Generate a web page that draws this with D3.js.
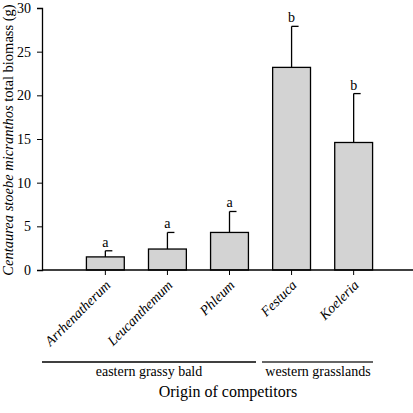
<!DOCTYPE html><html><head><meta charset="utf-8">
<script src="https://cdn.jsdelivr.net/npm/d3@7"></script>
<style>body{margin:0;background:#fff}svg text{font-family:"Liberation Serif","Times New Roman","DejaVu Serif",serif !important;fill:#000}</style></head><body>
<svg width="413" height="413"></svg>
<script>
const categories=["Arrhenatherum","Leucanthemum","Phleum","Festuca","Koeleria"];
const means=[1.5,2.4,4.3,23.2,14.6];
const upper=[2.2,4.3,6.7,27.9,20.2];
const letters=["a","a","a","b","b"];
const yTicks=[0,5,10,15,20,25,30];
const svg=d3.select("svg");
const L=42,R=413,T=8,B=270;
const x=d3.scaleBand().domain(categories).range([74,385]).paddingInner(0.39).paddingOuter(0.2);
const y=d3.scaleLinear().domain([0,30]).range([B,T]);
const g=svg.append("g");
g.selectAll(".eb").data(categories).join("line").attr("x1",d=>x(d)+x.bandwidth()/2).attr("x2",d=>x(d)+x.bandwidth()/2)
 .attr("y1",(d,i)=>y(means[i])).attr("y2",(d,i)=>y(upper[i])).attr("stroke","#000").attr("stroke-width",1.3);
g.selectAll(".cap").data(categories).join("line").attr("x1",d=>x(d)+x.bandwidth()/2).attr("x2",d=>x(d)+x.bandwidth()/2+7)
 .attr("y1",(d,i)=>y(upper[i])).attr("y2",(d,i)=>y(upper[i])).attr("stroke","#000").attr("stroke-width",1.3);
g.selectAll("rect").data(categories).join("rect").attr("x",d=>x(d)).attr("width",x.bandwidth())
 .attr("y",(d,i)=>y(means[i])).attr("height",(d,i)=>B-y(means[i])).attr("fill","#d3d3d3").attr("stroke","#000").attr("stroke-width",1.3);
g.selectAll(".lt").data(categories).join("text").attr("x",d=>x(d)+x.bandwidth()/2).attr("y",(d,i)=>y(upper[i])-4)
 .attr("text-anchor","middle").attr("font-size",14).text((d,i)=>letters[i]);
const ya=svg.append("g").attr("transform",`translate(${L},0)`).call(d3.axisLeft(y).tickValues(yTicks).tickSize(5).tickPadding(6));
ya.selectAll("text").attr("font-size",14);
ya.select(".domain").attr("stroke-width",1.3);
const xa=svg.append("g").attr("transform",`translate(0,${B})`).call(d3.axisBottom(x).tickSize(5).tickFormat(""));
xa.select(".domain").attr("d",`M${L},0H${R}`).attr("stroke-width",1.3);
xa.selectAll(".tick").append("text").attr("transform","translate(6,16) rotate(-45)").attr("text-anchor","end")
 .attr("font-size",14).attr("font-style","italic").text(d=>d);
svg.append("line").attr("x1",42).attr("x2",256).attr("y1",362).attr("y2",362).attr("stroke","#000").attr("stroke-width",1.3);
svg.append("line").attr("x1",262).attr("x2",373).attr("y1",362).attr("y2",362).attr("stroke","#333").attr("stroke-width",1.3);
svg.append("text").attr("x",149).attr("y",376).attr("text-anchor","middle").attr("font-size",14).text("eastern grassy bald");
svg.append("text").attr("x",318).attr("y",376).attr("text-anchor","middle").attr("font-size",14).text("western grasslands");
svg.append("text").attr("x",228).attr("y",397).attr("text-anchor","middle").attr("font-size",16).text("Origin of competitors");
const yl=svg.append("text").attr("transform","translate(13,140) rotate(-90)").attr("text-anchor","middle").attr("font-size",14.5);
yl.append("tspan").attr("font-style","italic").text("Centaurea stoebe micranthos");
yl.append("tspan").text(" total biomass (g)");
</script></body></html>
